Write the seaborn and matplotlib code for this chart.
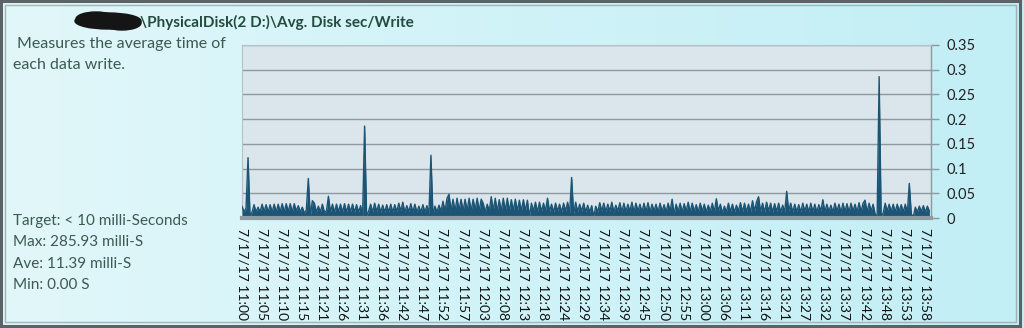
import numpy as np
import pandas as pd
import matplotlib
matplotlib.use("Agg")
import matplotlib.pyplot as plt
import seaborn as sns
from matplotlib.patches import Rectangle, Ellipse
from matplotlib.colors import LinearSegmentedColormap

# ---------------- data ----------------
title = "\\PhysicalDisk(2 D:)\\Avg. Disk sec/Write"
description = ["Measures the average time of", "each data write."]
stats = ["Target: < 10 milli-Seconds", "Max: 285.93 milli-S",
         "Ave: 11.39 milli-S", "Min: 0.00 S"]

tick_labels = [
    "7/17/17 11:00", "7/17/17 11:05", "7/17/17 11:10", "7/17/17 11:15",
    "7/17/17 11:21", "7/17/17 11:26", "7/17/17 11:31", "7/17/17 11:36",
    "7/17/17 11:42", "7/17/17 11:47", "7/17/17 11:52", "7/17/17 11:57",
    "7/17/17 12:03", "7/17/17 12:08", "7/17/17 12:13", "7/17/17 12:18",
    "7/17/17 12:24", "7/17/17 12:29", "7/17/17 12:34", "7/17/17 12:39",
    "7/17/17 12:45", "7/17/17 12:50", "7/17/17 12:55", "7/17/17 13:00",
    "7/17/17 13:06", "7/17/17 13:11", "7/17/17 13:16", "7/17/17 13:21",
    "7/17/17 13:27", "7/17/17 13:32", "7/17/17 13:37", "7/17/17 13:42",
    "7/17/17 13:48", "7/17/17 13:53", "7/17/17 13:58",
]
label_every = 10

# Avg. Disk sec/Write samples, in milliseconds
write_ms = [
    24, 12, 20, 122, 4, 12, 27, 12, 22, 12,
    28, 13, 27, 12, 27, 12, 28, 12, 28, 13,
    29, 12, 29, 13, 29, 12, 29, 14, 25, 12,
    22, 10, 16, 80, 3, 35, 30, 12, 24, 12,
    28, 12, 14, 44, 12, 28, 12, 28, 13, 28,
    12, 29, 12, 28, 13, 28, 12, 27, 12, 25,
    5, 186, 4, 14, 28, 12, 30, 13, 28, 12,
    26, 12, 27, 12, 28, 12, 27, 13, 30, 14,
    32, 12, 25, 13, 29, 12, 28, 12, 24, 12,
    27, 12, 25, 8, 127, 6, 24, 12, 26, 14,
    34, 14, 40, 48, 15, 38, 14, 40, 15, 38,
    14, 38, 15, 40, 14, 38, 16, 40, 14, 38,
    30, 12, 28, 14, 43, 15, 40, 14, 37, 14,
    40, 15, 40, 14, 37, 15, 38, 14, 36, 14,
    37, 15, 36, 3, 30, 14, 32, 12, 32, 13,
    30, 14, 40, 13, 28, 12, 30, 14, 28, 12,
    30, 14, 32, 10, 82, 8, 32, 13, 28, 14,
    30, 12, 26, 12, 25, 2, 24, 12, 31, 14,
    30, 13, 28, 14, 32, 12, 26, 14, 31, 12,
    30, 13, 28, 14, 32, 12, 30, 14, 28, 12,
    30, 13, 31, 12, 28, 14, 28, 12, 30, 13,
    27, 12, 30, 14, 38, 8, 28, 13, 30, 12,
    29, 14, 32, 12, 30, 13, 27, 12, 30, 14,
    28, 12, 26, 13, 30, 12, 39, 14, 28, 10,
    24, 12, 30, 13, 28, 12, 26, 14, 31, 12,
    30, 13, 28, 12, 35, 14, 33, 43, 13, 30,
    12, 32, 14, 30, 12, 29, 13, 30, 12, 26,
    12, 54, 14, 30, 12, 28, 13, 27, 12, 30,
    14, 28, 12, 30, 13, 28, 12, 27, 14, 37,
    12, 28, 13, 26, 12, 30, 14, 28, 12, 30,
    13, 29, 12, 30, 14, 28, 12, 31, 13, 30,
    36, 12, 30, 14, 28, 8, 3, 286, 3, 10,
    30, 14, 28, 13, 28, 12, 28, 14, 27, 12,
    28, 10, 70, 8, 3, 22, 12, 24, 13, 25,
    12, 24, 14,
]

y_ticks = [0, 0.05, 0.1, 0.15, 0.2, 0.25, 0.3, 0.35]
y_tick_labels = ["0", "0.05", "0.1", "0.15", "0.2", "0.25", "0.3", "0.35"]

# ---------------- style ----------------
sns.set_theme(style="white")
plt.rcParams['font.family'] = ['Lato', 'DejaVu Sans']

AREA = "#1b5474"
GRID = "#8c999e"
TEXT = "#3b5a52"
TITLE_C = "#234c3e"

W, H = 1024, 328
fig = plt.figure(figsize=(W / 100, H / 100), dpi=100)

# background gradient
bg = fig.add_axes([0, 0, 1, 1], zorder=0)
cmap = LinearSegmentedColormap.from_list("bg", ["#e2f7fa", "#d0f3f8", "#c2eef5"])
grad = np.linspace(0, 1, 256)[None, :]
bg.imshow(grad, aspect="auto", cmap=cmap, extent=[0, 1, 0, 1])
bg.set_xlim(0, 1)
bg.set_ylim(0, 1)
bg.axis("off")

# plot area
ax = fig.add_axes([242 / W, 1 - 218 / H, (931 - 242) / W, (218 - 45) / H], zorder=2)
ax.set_facecolor("#dae6ec")

n = len(write_ms)
df = pd.DataFrame({"idx": np.arange(n), "sec": np.array(write_ms) / 1000.0})
ax.fill_between(df["idx"], 0, df["sec"], color=AREA, lw=0, zorder=3)
sns.lineplot(data=df, x="idx", y="sec", ax=ax, color=AREA, lw=1.0, zorder=4)

ax.set_xlim(0, n - 0.2)
ax.set_ylim(0, 0.35)
ax.set_xlabel("")
ax.set_ylabel("")

ax.set_yticks(y_ticks)
ax.set_yticklabels(y_tick_labels)
ax.yaxis.tick_right()
ax.yaxis.grid(True, color=GRID, lw=1)
ax.xaxis.grid(False)
ax.set_axisbelow(True)
ax.tick_params(axis="y", which="both", right=True, left=False, length=6, width=1,
               color=GRID, pad=5, labelsize=10.5, labelcolor="#222222")

ax.set_xticks(np.arange(0, n, label_every)[:len(tick_labels)])
ax.set_xticklabels(tick_labels, rotation=-90, fontsize=10, color="#111111")
ax.tick_params(axis="x", length=0, pad=7)

for side in ["left", "top"]:
    ax.spines[side].set_color("#b5c3c8")
    ax.spines[side].set_linewidth(0.8)
ax.spines["right"].set_color(GRID)
ax.spines["right"].set_linewidth(1)
ax.spines["bottom"].set_color("#8e9ba1")
ax.spines["bottom"].set_linewidth(3)
ax.spines["bottom"].set_zorder(5)

# ---------------- texts ----------------
def fx(px):
    return px / W

def fy(py):
    return 1 - py / H

# redaction blob over the server name
for cx, cy, w, h in [(108, 21, 66, 16), (96, 19, 40, 14), (122, 23, 38, 14)]:
    fig.add_artist(Ellipse((fx(cx), fy(cy)), w / W, h / H, color="#151515",
                           transform=fig.transFigure, zorder=5))

fig.text(fx(140), fy(22), title, fontsize=11, fontweight="bold",
         color=TITLE_C, va="center", ha="left", zorder=6)
fig.text(fx(17), fy(44), description[0], fontsize=11.5, color=TEXT, va="center", ha="left")
fig.text(fx(13), fy(65), description[1], fontsize=11.5, color=TEXT, va="center", ha="left")
for k, s in enumerate(stats):
    fig.text(fx(13), fy(221 + 21.3 * k), s, fontsize=11, color=TEXT,
             va="center", ha="left")

# frame
fig.add_artist(Rectangle((fx(1), fy(326)), 1019 / W, 325 / H, fill=False,
                         ec="#5c6366", lw=2.2, transform=fig.transFigure, zorder=7))
fig.add_artist(Rectangle((fx(5), fy(322)), 1011 / W, 317 / H, fill=False,
                         ec="#9fb4b8", lw=1, transform=fig.transFigure, zorder=7))

fig.savefig("out.png", dpi=100)
